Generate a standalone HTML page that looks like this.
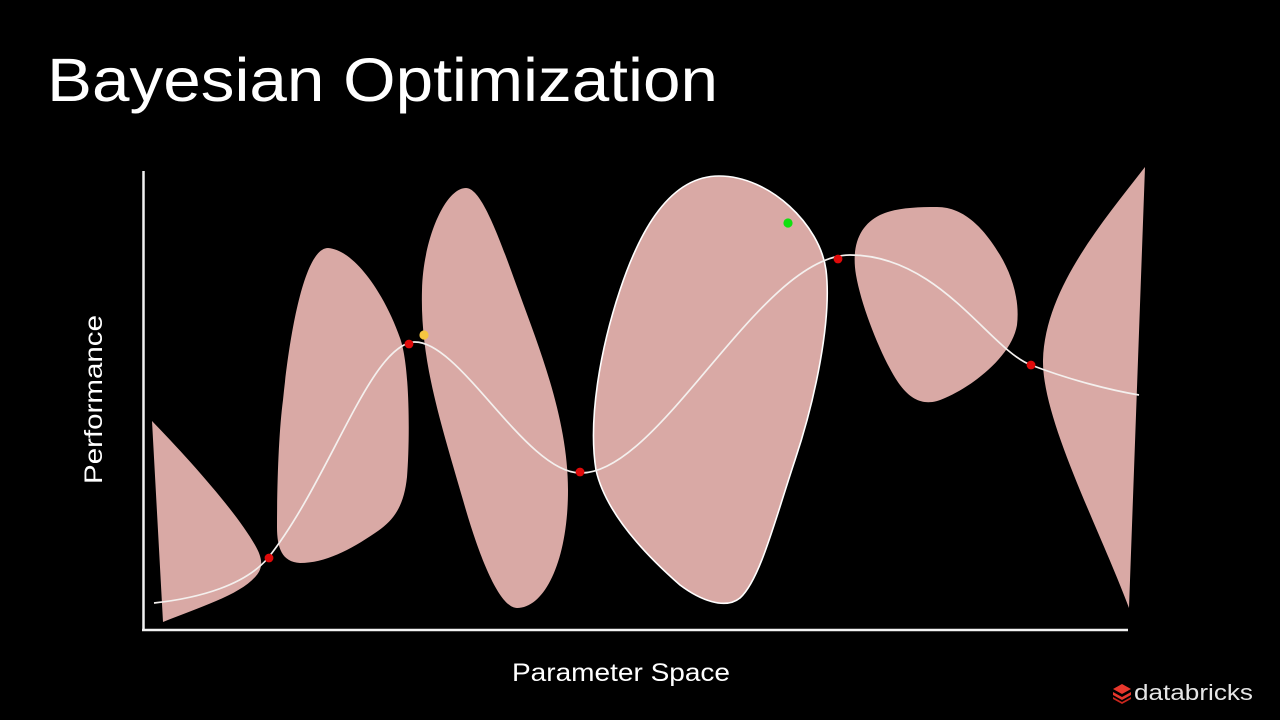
<!DOCTYPE html>
<html>
<head>
<meta charset="utf-8">
<style>
html,body{margin:0;padding:0;background:#000;}
body{width:1280px;height:720px;overflow:hidden;}
svg{display:block;}
</style>
</head>
<body>
<svg width="1280" height="720" viewBox="0 0 1280 720" xmlns="http://www.w3.org/2000/svg">
<rect width="1280" height="720" fill="#000"/>
<text x="47" y="101" font-family="Liberation Sans, sans-serif" font-size="61" fill="#ffffff" textLength="671" lengthAdjust="spacingAndGlyphs">Bayesian Optimization</text>

<g fill="#d9a9a5">
<path d="M152,421 C185,455 235,510 255,545 C262,557 264,567 256,576 C240,595 200,607 163,622 Z"/>
<path d="M328,248 C355,250 385,295 400,338 C410,365 410,440 407,477 C404,505 395,520 375,533 C350,550 325,563 300,563 C282,562 277,548 277,527 C277,480 279,430 283,400 C290,330 305,248 328,248 Z"/>
<path d="M466,188 C482,188 500,240 520,295 C540,350 568,420 568,490 C568,560 545,608 517,608 C500,608 480,560 463,500 C440,420 420,360 422,290 C423,240 445,188 466,188 Z"/>
<path d="M719,176 C770,176 820,225 826,270 C832,320 815,400 795,460 C775,520 760,580 740,598 C725,610 700,600 680,585 C640,550 605,510 596,470 C588,420 600,350 620,290 C640,230 670,176 719,176 Z" stroke="#ffffff" stroke-width="1.6"/>
<path d="M937,207 C965,207 985,230 1000,255 C1012,275 1020,300 1017,325 C1012,355 975,385 945,398 C930,405 915,405 900,385 C885,365 862,310 856,275 C851,245 860,225 880,215 C895,208 915,207 937,207 Z"/>
<path d="M1145,167 C1100,225 1045,290 1043,360 C1042,420 1100,530 1129,608 Z"/>
</g>

<path d="M154,603 C200,598 245,585 268,558 C330,480 370,345 414,342 C460,340 525,472 580,473 C660,475 760,255 850,255 C940,255 990,350 1031,365 C1070,380 1110,390 1139,395" fill="none" stroke="#f4f0ee" stroke-width="1.7"/>

<line x1="143.5" y1="171" x2="143.5" y2="631" stroke="#f2f2f2" stroke-width="2.5"/>
<line x1="142" y1="630" x2="1128" y2="630" stroke="#f2f2f2" stroke-width="2.5"/>

<g fill="#e00a0a">
<circle cx="269" cy="558" r="4.4"/>
<circle cx="409" cy="344" r="4.4"/>
<circle cx="580" cy="472" r="4.4"/>
<circle cx="838" cy="259" r="4.4"/>
<circle cx="1031" cy="365" r="4.4"/>
</g>
<circle cx="424" cy="335" r="4.6" fill="#f5c540"/>
<circle cx="788" cy="223" r="4.6" fill="#10e010"/>

<text x="512" y="681" font-family="Liberation Sans, sans-serif" font-size="25" fill="#ffffff" textLength="218" lengthAdjust="spacingAndGlyphs">Parameter Space</text>
<text transform="translate(102,484) rotate(-90)" x="0" y="0" font-family="Liberation Sans, sans-serif" font-size="25" fill="#ffffff" textLength="169" lengthAdjust="spacingAndGlyphs">Performance</text>

<g>
<path d="M1122,684 L1131,689 L1122,694 L1113,689 Z" fill="#e8372c"/>
<path d="M1113,692 L1122,697 L1131,692 L1131,695 L1122,700 L1113,695 Z" fill="#e8372c"/>
<path d="M1113,697 L1122,702 L1131,697 L1131,699 L1122,704 L1113,699 Z" fill="#c9261d"/>
</g>
<text x="1134" y="700" font-family="Liberation Sans, sans-serif" font-size="22" fill="#e6e6e6" textLength="119" lengthAdjust="spacingAndGlyphs">databricks</text>
</svg>
</body>
</html>
